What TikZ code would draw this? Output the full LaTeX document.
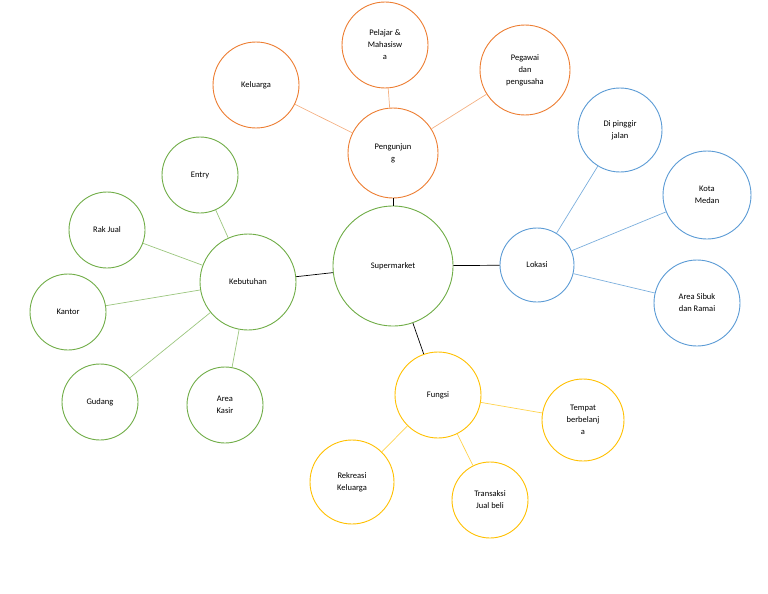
\documentclass[tikz,border=0pt]{standalone}
\usepackage{fontspec}
\setmainfont{Carlito}
\begin{document}
\begin{tikzpicture}[x=1pt,y=-1pt,
 c/.style={circle,draw,line width=0.9pt,inner sep=0pt,font=\fontsize{8.5}{12}\selectfont,align=center,fill=white},
 og/.style={c,minimum size=86pt},
 bl/.style={c,minimum size=84pt},
 gr/.style={c,minimum size=76pt},
 ye/.style={c,minimum size=82pt},
 lo/.style={line width=0.7pt},
 lb/.style={line width=0.7pt},
 lg/.style={line width=0.7pt},
 ly/.style={line width=0.7pt},
 lk/.style={draw=black,line width=0.7pt}]
\useasboundingbox (0,0) rectangle (768,594);
\definecolor{o}{HTML}{ED7D31}\definecolor{b}{HTML}{5B9BD5}\definecolor{g}{HTML}{70AD47}\definecolor{y}{HTML}{FFC000}
\tikzset{og/.append style={draw=o},bl/.append style={draw=b},gr/.append style={draw=g},ye/.append style={draw=y},
 lo/.append style={draw=o!60},lb/.append style={draw=b!80},lg/.append style={draw=g!70},ly/.append style={draw=y!70}}
\node[c,draw=g,minimum size=120pt] (s) at (393,266) {Supermarket};
\node[og,minimum size=90pt] (p) at (393,153) {Pengunjun\\g};
\node[og] (k) at (256,85) {Keluarga};
\node[og] (pm) at (385,45) {Pelajar \&\\Mahasisw\\a};
\node[og,minimum size=90pt] (pg) at (525,70) {Pegawai\\dan\\pengusaha};
\node[bl,minimum size=74pt] (l) at (537,265) {Lokasi};
\node[bl] (dp) at (620,130) {Di pinggir\\jalan};
\node[bl,minimum size=88pt] (km) at (707,195) {Kota\\Medan};
\node[bl,minimum size=86pt] (as) at (697,303) {Area Sibuk\\dan Ramai};
\node[ye,minimum size=86pt] (f) at (438,395) {Fungsi};
\node[ye] (tb) at (583,420) {Tempat\\berbelanj\\a};
\node[ye,minimum size=84pt] (rk) at (352,482) {Rekreasi\\Keluarga};
\node[ye,minimum size=76pt] (tj) at (490,500) {Transaksi\\Jual beli};
\node[gr,minimum size=96pt] (kb) at (248,282) {Kebutuhan};
\node[gr] (e) at (200,175) {Entry};
\node[gr] (rj) at (107,230) {Rak Jual};
\node[gr] (ka) at (68,312) {Kantor};
\node[gr] (gd) at (100,402) {Gudang};
\node[gr] (ak) at (225,405) {Area\\Kasir};
\draw[lk] (s) -- (p); \draw[lk] (s) -- (l); \draw[lk] (s) -- (kb); \draw[lk] (s) -- (f);
\draw[lo] (p) -- (k); \draw[lo] (p) -- (pm); \draw[lo] (p) -- (pg);
\draw[lb] (l) -- (dp); \draw[lb] (l) -- (km); \draw[lb] (l) -- (as);
\draw[ly] (f) -- (tb); \draw[ly] (f) -- (rk); \draw[ly] (f) -- (tj);
\draw[lg] (kb) -- (e); \draw[lg] (kb) -- (rj); \draw[lg] (kb) -- (ka); \draw[lg] (kb) -- (gd); \draw[lg] (kb) -- (ak);
\end{tikzpicture}
\end{document}
